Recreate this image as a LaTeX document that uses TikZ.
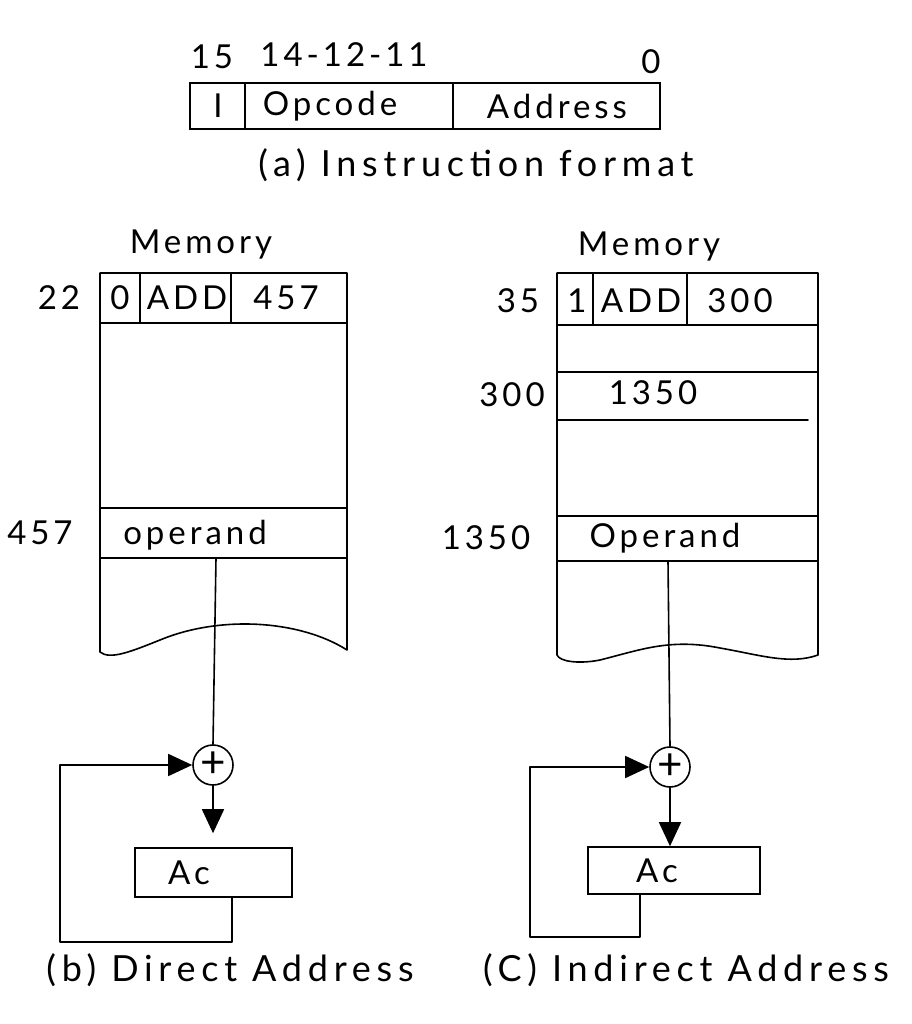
\documentclass[tikz,border=0pt]{standalone}
\usepackage{fontspec}
\setmainfont[LetterSpace=12]{Lato}
\usetikzlibrary{arrows.meta}
\tikzset{
  ln/.style={line width=1.6pt, line cap=round, line join=round},
  txt/.style={inner sep=0pt, font=\fontsize{33}{36}\selectfont},
  lbl/.style={inner sep=0pt, font=\fontsize{36}{40}\selectfont\addfontfeatures{LetterSpace=16}},
  adder/.style={circle, draw, line width=1.6pt, minimum size=40pt, inner sep=0pt, font=\fontsize{44}{44}\selectfont},
  accbox/.style={draw, line width=1.6pt, inner sep=0pt},
  tip/.style={-{Triangle[length=24pt,width=22pt]}}
}
\begin{document}
\begin{tikzpicture}[x=1pt,y=-1pt]
\useasboundingbox[fill=white] (0,0) rectangle (911,1024);

% ---------- (a) instruction format ----------
\node[txt] (b15) at (212,57) {15};
\node[txt] (b14) at (344,55) {14-12-11};
\node[txt] (b0) at (651,62) {0};
\node[draw, line width=1.6pt, minimum width=470pt, minimum height=46pt, inner sep=0pt] (instr) at (425,106) {};
\draw[ln] (245,83) -- (245,129);
\draw[ln] (453,83) -- (453,129);
\node[txt] (fI) at (218,106) {I};
\node[txt] (fop) at (330,106) {Opcode};
\node[txt] (fad) at (557,106) {Address};
\node[lbl] (capa) at (476,165) {(a) Instruction format};

% ---------- (b) direct address ----------
\node[txt] (memL) at (201,245) {Memory};
\draw[ln] (100,273) -- (347,273) -- (347,650)
  .. controls (300,620) and (220,615) .. (160,640)
  .. controls (130,652) and (110,660) .. (100,652) -- cycle;
\draw[ln] (100,323) -- (347,323);
\draw[ln] (140,273) -- (140,323);
\draw[ln] (231,273) -- (231,323);
\draw[ln] (100,508) -- (347,508);
\draw[ln] (100,558) -- (347,558);
\node[txt] (a22) at (59,298) {22};
\node[txt] (iL) at (120,298) {0};
\node[txt] (addopL) at (187,298) {ADD};
\node[txt] (adrL) at (286,298) {457};
\node[txt] (a457) at (40,533) {457};
\node[txt] (opndL) at (195,535) {operand};
\coordinate (opLb) at (216,558);

\node[adder] (sumL) at (213,765) {+};
\node[accbox, minimum width=157pt, minimum height=49pt] (accL) at (213.5,872.5) {};
\node[txt] (acL) at (189,873) {Ac};
\coordinate (fbL) at (232,897);

\draw[ln] (opLb) -- (sumL.north);
\draw[ln, tip, shorten >=14pt] (sumL.south) -- (sumL.south |- accL.north);
\draw[ln, tip] (fbL) -- (232,942) -- (60,942) |- (sumL.west);
\node[lbl] (capb) at (230,970) {(b) Direct Address};

% ---------- (c) indirect address ----------
\node[txt] (memR) at (649,247) {Memory};
\draw[ln] (557,273) -- (818,273) -- (818,655)
  .. controls (790,665) and (760,655) .. (720,648)
  .. controls (670,638) and (640,650) .. (600,660)
  .. controls (580,664) and (560,662) .. (557,655) -- cycle;
\draw[ln] (557,325) -- (818,325);
\draw[ln] (593,273) -- (593,325);
\draw[ln] (687,273) -- (687,325);
\draw[ln] (557,372) -- (818,372);
\draw[ln] (557,420) -- (808,420);
\draw[ln] (557,516) -- (818,516);
\draw[ln] (557,561) -- (818,561);
\node[txt] (a35) at (518,301) {35};
\node[txt] (iR) at (577,301) {1};
\node[txt] (addopR) at (641,301) {ADD};
\node[txt] (adrR) at (740,301) {300};
\node[txt] (a300) at (512,395) {300};
\node[txt] (v1350) at (653,393) {1350};
\node[txt] (a1350) at (486,538) {1350};
\node[txt] (opndR) at (665,538) {Operand};
\coordinate (opRb) at (668,561);

\node[adder] (sumR) at (670,767) {+};
\node[accbox, minimum width=172pt, minimum height=47pt] (accR) at (674,870.5) {};
\node[txt] (acR) at (657,871) {Ac};
\coordinate (fbR) at (640,894);

\draw[ln] (opRb) -- (sumR.north);
\draw[ln, tip] (sumR.south) -- (sumR.south |- accR.north);
\draw[ln, tip] (fbR) -- (640,937) -- (530,937) |- (sumR.west);
\node[lbl] (capc) at (686,970) {(C) Indirect Address};
\end{tikzpicture}
\end{document}
